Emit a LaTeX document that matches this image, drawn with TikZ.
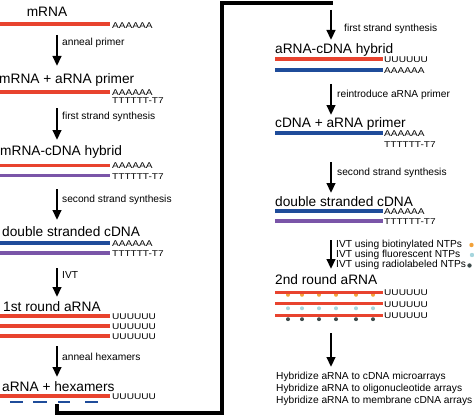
\documentclass[tikz,border=0pt]{standalone}
\usepackage{fontspec}
\setmainfont{Liberation Sans}
\newfontfamily\tailfont[FakeStretch=1.2]{Liberation Sans}
\usetikzlibrary{arrows.meta}
\definecolor{rnared}{HTML}{E8432E}
\definecolor{dnablue}{HTML}{1F4C9A}
\definecolor{dnapurple}{HTML}{7A55A8}
\definecolor{dotorange}{HTML}{F2A23A}
\definecolor{dotcyan}{HTML}{A6D6DE}
\definecolor{dotdark}{HTML}{3E4B4B}
\begin{document}
\begin{tikzpicture}[x=1pt,y=-1pt,
  big/.style={font=\fontsize{13.7}{16}\selectfont, inner sep=0pt, anchor=west},
  small/.style={font=\fontsize{10.2}{12}\selectfont, inner sep=0pt, anchor=west},
  tailtxt/.style={font=\tailfont\fontsize{8.4}{10}\selectfont, inner sep=0pt, anchor=west},
  strand/.style={line width=3.2pt},
  hexdash/.style={line width=2.8pt, dnablue},
  steparrow/.style={line width=2.6pt, -{Triangle[length=10pt,width=8.5pt]}},
  link/.style={line width=3.5pt, line join=miter},
  lab/.style={circle, inner sep=0pt, minimum size=4.4pt}
]
\useasboundingbox (0,0) rectangle (474,420);

% ---------------- left column ----------------
\node[big, anchor=center] (t1) at (47,12) {mRNA};
\draw[strand, rnared] (0,24) -- (110,24);
\node[tailtxt] (a1) at (112,25.5) {AAAAAA};

\coordinate (s1) at (57,35); \coordinate (e1) at (57,66);
\draw[steparrow] (s1) -- (e1);
\node[small] (l1) at (62,43) {anneal primer};

\node[big] (t2) at (-1,80) {mRNA + aRNA primer};
\draw[strand, rnared] (0,92) -- (110,92);
\node[tailtxt] (a2) at (112,93) {AAAAAA};
\node[tailtxt] (b2) at (112,100.5) {TTTTTT-T7};

\coordinate (s2) at (57,108); \coordinate (e2) at (57,140);
\draw[steparrow] (s2) -- (e2);
\node[small] (l2) at (62,117) {first strand synthesis};

\node[big] (t3) at (0,152) {mRNA-cDNA hybrid};
\draw[strand, rnared] (0,165.5) -- (110,165.5);
\draw[strand, dnapurple] (0,175.7) -- (110,175.7);
\node[tailtxt] (a3) at (112,165.5) {AAAAAA};
\node[tailtxt] (b3) at (112,176.5) {TTTTTT-T7};

\coordinate (s3) at (57,189); \coordinate (e3) at (57,220);
\draw[steparrow] (s3) -- (e3);
\node[small] (l3) at (62,200) {second strand synthesis};

\node[big] (t4) at (2,232) {double stranded cDNA};
\draw[strand, dnablue] (0,243) -- (110,243);
\draw[strand, dnapurple] (0,253) -- (110,253);
\node[tailtxt] (a4) at (112,243.5) {AAAAAA};
\node[tailtxt] (b4) at (112,254) {TTTTTT-T7};

\coordinate (s4) at (57,268); \coordinate (e4) at (57,297);
\draw[steparrow] (s4) -- (e4);
\node[small] (l4) at (62,275) {IVT};

\node[big] (t5) at (3,307) {1st round aRNA};
\draw[strand, rnared] (0,316) -- (110,316);
\draw[strand, rnared] (0,326) -- (110,326);
\draw[strand, rnared] (0,336) -- (110,336);
\node[tailtxt] (u5a) at (112,316.5) {UUUUUU};
\node[tailtxt] (u5b) at (112,326.5) {UUUUUU};
\node[tailtxt] (u5c) at (112,336.5) {UUUUUU};

\coordinate (s5) at (57,346); \coordinate (e5) at (57,377);
\draw[steparrow] (s5) -- (e5);
\node[small] (l5) at (62,357) {anneal hexamers};

\node[big] (t6) at (2,387) {aRNA + hexamers};
\draw[strand, rnared] (0,396) -- (110,396);
\node[tailtxt] (u6) at (112,396.5) {UUUUUU};
\draw[hexdash] (10,402) -- (23,402);
\draw[hexdash] (33,402) -- (47,402);
\draw[hexdash] (58,402) -- (70,402);
\draw[hexdash] (85,402) -- (98,402);

% ---------------- connector ----------------
\coordinate (k0) at (57,404);
\coordinate (k1) at (57,413);
\coordinate (k2) at (222,413);
\coordinate (k3) at (222,3);
\coordinate (k4) at (333,3);
\draw[link] (k0) -- (k1) -- (k2) -- (k3) -- (k4);

% ---------------- right column ----------------
\coordinate (r1s) at (331,10); \coordinate (r1e) at (331,40);
\draw[steparrow] (r1s) -- (r1e);
\node[small] (m1) at (344,29) {first strand synthesis};

\node[big] (q1) at (275,50) {aRNA-cDNA hybrid};
\draw[strand, rnared] (275,59) -- (383,59);
\draw[strand, dnablue] (275,70) -- (383,70);
\node[tailtxt] (qu1) at (384,60) {UUUUUU};
\node[tailtxt] (qa1) at (384,71) {AAAAAA};

\coordinate (r2s) at (331,84); \coordinate (r2e) at (331,115);
\draw[steparrow] (r2s) -- (r2e);
\node[small] (m2) at (337,95) {reintroduce aRNA primer};

\node[big] (q2) at (275,124) {cDNA + aRNA primer};
\draw[strand, dnablue] (275,133) -- (383,133);
\node[tailtxt] (qa2) at (384,134) {AAAAAA};
\node[tailtxt] (qb2) at (384,145) {TTTTTT-T7};

\coordinate (r3s) at (331,162); \coordinate (r3e) at (331,193);
\draw[steparrow] (r3s) -- (r3e);
\node[small] (m3) at (337,173) {second strand synthesis};

\node[big] (q3) at (275,202) {double stranded cDNA};
\draw[strand, dnablue] (275,211) -- (383,211);
\draw[strand, dnapurple] (275,221) -- (383,221);
\node[tailtxt] (qa3) at (384,212) {AAAAAA};
\node[tailtxt] (qb3) at (384,222) {TTTTTT-T7};

\coordinate (r4s) at (331,240); \coordinate (r4e) at (331,269);
\draw[steparrow] (r4s) -- (r4e);
\node[small] (m4a) at (336,245) {IVT using biotinylated NTPs};
\node[small] (m4b) at (336,255) {IVT using fluorescent NTPs};
\node[small] (m4c) at (336,265) {IVT using radiolabeled NTPs};
\node[lab, fill=dotorange] (d1) at (471.5,245) {};
\node[lab, fill=dotcyan] (d2) at (472,255) {};
\node[lab, fill=dotdark] (d3) at (469.5,265.5) {};

\node[big] (q4) at (275,280) {2nd round aRNA};
\foreach \y/\c/\d in {292.3/dotorange/294.8, 303.5/dotcyan/308.3, 315.5/dotdark/319.2}{
  \foreach \x in {288,302,319,336,356,373}{
    \fill[\c] (\x,\d) circle[radius=2pt];
  }
  \draw[strand, rnared] (275,\y) -- (383,\y);
}
\node[tailtxt] (qu4a) at (384,293) {UUUUUU};
\node[tailtxt] (qu4b) at (384,304.5) {UUUUUU};
\node[tailtxt] (qu4c) at (384,316) {UUUUUU};

\coordinate (r5s) at (331,333); \coordinate (r5e) at (331,367);
\draw[steparrow] (r5s) -- (r5e);

\node[small] (h1) at (276,377) {Hybridize aRNA to cDNA microarrays};
\node[small] (h2) at (276,389) {Hybridize aRNA to oligonucleotide arrays};
\node[small] (h3) at (276,401) {Hybridize aRNA to membrane cDNA arrays};
\end{tikzpicture}
\end{document}
